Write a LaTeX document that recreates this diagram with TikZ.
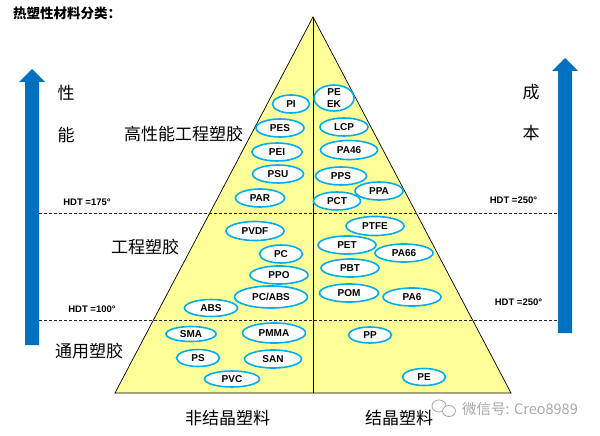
\documentclass[tikz,border=0pt]{standalone}
\usepackage{fontspec}
\setmainfont{Liberation Sans}
\newfontfamily\cjk{Noto Sans CJK SC}
\usepackage{xcolor}
\definecolor{pyramid}{RGB}{255,255,153}
\definecolor{ringblue}{RGB}{0,174,239}
\definecolor{arrowblue}{RGB}{0,112,192}
\definecolor{markgray}{gray}{.66}
\usetikzlibrary{shapes.geometric}
\tikzset{
    resin/.style 2 args={ellipse, draw=ringblue, line width=1.6pt, fill=white, inner sep=0pt, minimum width=#1pt, minimum height=#2pt, font=\fontsize{10}{10}\selectfont\bfseries},
    level/.style={font=\fontsize{17}{17}\selectfont\cjk, inner sep=0pt},
    hdt/.style={font=\fontsize{9.5}{9.5}\selectfont\bfseries, inner sep=0pt},
    border/.style={densely dashed, line width=.7pt, black!85},
    uparrow/.style={fill=arrowblue}
}
\begin{document}
\begin{tikzpicture}[x=1pt, y=-1pt]
    \useasboundingbox (0,0) rectangle (600,436);

    \coordinate (apex) at (313,17);
    \coordinate (baseL) at (115,393);
    \coordinate (baseM) at (313,393);
    \coordinate (baseR) at (511,393);
    \draw[fill=pyramid, line width=.7pt] (apex) -- (baseL) -- (baseR) -- cycle;
    \draw[line width=.7pt] (apex) -- (baseM);

    \path[uparrow] (25,345) -- (25,82) -- (19,82) -- (32,69) -- (45,82) -- (39,82) -- (39,345) -- cycle;
    \path[uparrow] (558,333) -- (558,71) -- (552,71) -- (565,58) -- (578,71) -- (572,71) -- (572,333) -- cycle;

    \coordinate (hi175) at (39,213);
    \coordinate (hi250) at (558,213);
    \coordinate (lo100) at (39,320);
    \coordinate (lo250) at (558,320);
    \draw[border] (hi175) -- (hi250);
    \draw[border] (lo100) -- (lo250);

    % title and side words
    \node[anchor=west, inner sep=0pt, font=\fontsize{13.5}{13.5}\selectfont\cjk\bfseries] (title) at (13,13) {热塑性材料分类：};
    \node[level] (perf1) at (66,93) {性};
    \node[level] (perf2) at (66,135) {能};
    \node[level] (cost1) at (531,92) {成};
    \node[level] (cost2) at (531,133) {本};
    \node[level] (high) at (183.5,134) {高性能工程塑胶};
    \node[level] (eng) at (145,247) {工程塑胶};
    \node[level] (general) at (89,351) {通用塑胶};
    \node[level] (amorph) at (227.5,418) {非结晶塑料};
    \node[level] (cryst) at (399,418) {结晶塑料};

    \node[hdt] (hdtA) at (87,202) {HDT =175°};
    \node[hdt] (hdtB) at (513.5,200) {HDT =250°};
    \node[hdt] (hdtC) at (92,309) {HDT =100°};
    \node[hdt] (hdtD) at (518.5,302) {HDT =250°};

    % high performance
    \node[resin={37}{18}] (PI) at (291,104) {PI};
    \node[resin={40}{21}, align=center] (PEEK) at (334,98) {PE\\[1.5pt]EK};
    \node[resin={48}{18}] (PES) at (280,128) {PES};
    \node[resin={48}{18}] (LCP) at (344,127) {LCP};
    \node[resin={50}{18}] (PEI) at (277,152) {PEI};
    \node[resin={57}{19}] (PA46) at (349,150) {PA46};
    \node[resin={51}{18}] (PSU) at (278,174) {PSU};
    \node[resin={51}{18}] (PPS) at (341,176) {PPS};
    \node[resin={49}{18}] (PAR) at (260,198) {PAR};
    \node[resin={48}{18}] (PPA) at (379,191) {PPA};
    \node[resin={47}{18}] (PCT) at (337,201) {PCT};

    % engineering
    \node[resin={58}{19}] (PVDF) at (255,231) {PVDF};
    \node[resin={58}{19}] (PTFE) at (375,226) {PTFE};
    \node[resin={43}{18}] (PC) at (281,254) {PC};
    \node[resin={58}{18}] (PET) at (347,245) {PET};
    \node[resin={58}{18}] (PA66) at (404,253) {PA66};
    \node[resin={58}{18}] (PPO) at (279,275) {PPO};
    \node[resin={58}{18}] (PBT) at (350,268) {PBT};
    \node[resin={73}{22}] (PCABS) at (271,297) {PC/ABS};
    \node[resin={59}{18}] (POM) at (349,293) {POM};
    \node[resin={58}{18}] (PA6) at (412,297) {PA6};
    \node[resin={53}{17}] (ABS) at (211,308) {ABS};

    % general purpose
    \node[resin={50}{15}] (SMA) at (191,334) {SMA};
    \node[resin={63}{20}] (PMMA) at (274,333) {PMMA};
    \node[resin={43}{16}] (PP) at (370,335) {PP};
    \node[resin={43}{17}] (PS) at (198,358) {PS};
    \node[resin={57}{18}] (SAN) at (273,359) {SAN};
    \node[resin={55}{16}] (PVC) at (232,379) {PVC};
    \node[resin={43}{17}] (PE) at (424,377) {PE};

    % watermark
    \draw[markgray, line width=.8pt, fill=white] (439,406) ellipse (7pt and 6pt);
    \draw[markgray, line width=.8pt, fill=white] (449,411) ellipse (6.5pt and 5.5pt);
    \node[anchor=west, inner sep=0pt, text=markgray, font=\fontsize{14.5}{14.5}\selectfont\cjk] (mark) at (462,409) {微信号: Creo8989};
\end{tikzpicture}
\end{document}
